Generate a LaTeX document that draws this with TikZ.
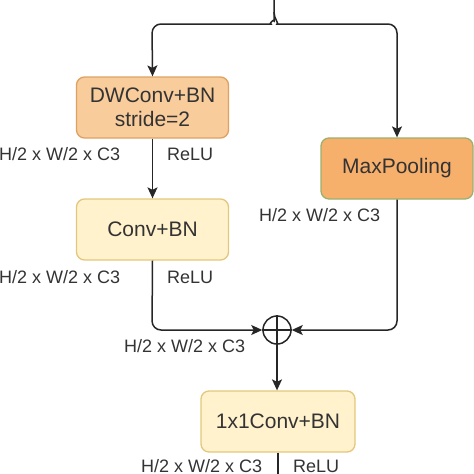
\documentclass[tikz,border=0pt]{standalone}
\usepackage{fontspec}
\setmainfont{Liberation Sans}
\usetikzlibrary{arrows.meta}
\definecolor{txt}{HTML}{333333}
\definecolor{ln}{HTML}{262626}
\definecolor{dwfill}{HTML}{F9CC9C}
\definecolor{dwdraw}{HTML}{DDA262}
\definecolor{cfill}{HTML}{FFF2CC}
\definecolor{cdraw}{HTML}{E3C77C}
\definecolor{mpfill}{HTML}{F7AF6C}
\definecolor{mpdraw}{HTML}{9CAF6C}
\tikzset{
  blk/.style={rectangle, rounded corners=8pt, line width=1.3pt, minimum width=152pt, minimum height=61pt, inner sep=0pt, text=txt, align=center, font=\fontsize{21}{24}\selectfont},
  dwbox/.style={blk, fill=dwfill, draw=dwdraw},
  cbox/.style={blk, fill=cfill, draw=cdraw},
  mpbox/.style={blk, fill=mpfill, draw=mpdraw},
  lbl/.style={text=txt, inner sep=0pt, font=\fontsize{18}{20}\selectfont},
  conn/.style={draw=ln, line width=1.5pt, rounded corners=9pt},
  arr/.style={conn, -{Stealth[length=11pt,width=10pt,inset=2.5pt]}},
}
\begin{document}
\begin{tikzpicture}[x=1pt,y=-1pt]
\useasboundingbox (0,0) rectangle (474,474);
\node[dwbox] (dw) at (152.5,107.5) {DWConv+BN\\stride=2};
\node[cbox] (conv) at (152.5,229.5) {Conv+BN};
\node[mpbox] (mp) at (397,168.5) {MaxPooling};
\node[cbox, minimum width=154pt] (c1) at (278,421.5) {1x1Conv+BN};
\node[circle, draw=ln, line width=1.5pt, minimum size=28pt, inner sep=0pt] (op) at (277,330) {};
\draw[ln, line width=1.5pt] (op.north) -- (op.south) (op.west) -- (op.east);
\coordinate (top) at (274,0);
\coordinate (bot) at (278,474);
% split at top
\draw[arr] (top) -- (274,12) to[out=-90,in=0] (262,24) -- (152,24) -- (dw.north);
\draw[arr] (274,12) to[out=-90,in=180] (286,24) -- (397,24) -- (mp.north);
\draw[arr] (dw.south) -- (conv.north);
\draw[arr] (conv.south) -- (152,330) -- (op.west);
\draw[arr] (mp.south) -- (397,330) -- (op.east);
\draw[arr] (op.south) -- (op.south |- c1.north);
\draw[conn] (c1.south) -- (bot);
% labels
\node[lbl, anchor=west] (l1) at (-1,154) {H/2 x W/2 x C3};
\node[lbl, anchor=west] (r1) at (167,154) {ReLU};
\node[lbl, anchor=west] (l2) at (259,215) {H/2 x W/2 x C3};
\node[lbl, anchor=west] (l3) at (-1,277) {H/2 x W/2 x C3};
\node[lbl, anchor=west] (r3) at (167,277) {ReLU};
\node[lbl, anchor=west] (l4) at (124,346) {H/2 x W/2 x C3};
\node[lbl, anchor=west] (l5) at (141,466) {H/2 x W/2 x C3};
\node[lbl, anchor=west] (r5) at (293,466) {ReLU};
\end{tikzpicture}
\end{document}
